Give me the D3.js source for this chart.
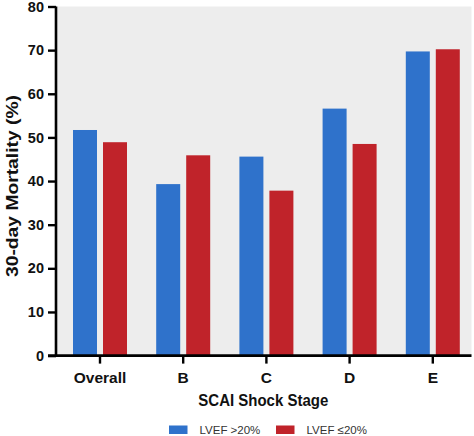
<!DOCTYPE html>
<html><head><meta charset="utf-8">
<script src="https://cdn.jsdelivr.net/npm/d3@7"></script>
<style>body{margin:0;background:#fff;} text{font-family:"Liberation Sans",Arial,sans-serif;}</style>
</head><body>
<svg id="c" width="474" height="436"></svg>
<script>
const categories = ["Overall","B","C","D","E"];
const seriesNames = ["LVEF >20%","LVEF \u226420%"];
const lvefAbove20 = [51.7, 39.3, 45.6, 56.6, 69.7];
const lvefBelow20 = [48.9, 45.9, 37.8, 48.5, 70.2];
const yTicks = [0,10,20,30,40,50,60,70,80];
const colors = ["#2f72cb","#c0232a"];

const svg = d3.select("#c");
const mLeft = 56, mRight = 471.5, mTop = 6.5, mBottom = 355.6;
const y = d3.scaleLinear().domain([0,80]).range([mBottom, mTop]);
const x = d3.scaleBand().domain(categories).range([58.4, 474.4]).paddingInner(0).paddingOuter(0);
const inner = d3.scaleBand().domain([0,1]).range([-27, 27]).paddingInner(0.2);

svg.append("rect").attr("x", mLeft).attr("y", mTop).attr("width", mRight-mLeft).attr("height", mBottom-mTop).attr("fill","#ededed");

const data = categories.map((c,i)=>({c, v:[lvefAbove20[i], lvefBelow20[i]]}));
const g = svg.append("g");
data.forEach(d=>{
  const cx = x(d.c) + x.bandwidth()/2;
  d.v.forEach((v,j)=>{
    g.append("rect").attr("x", cx + inner(j)).attr("width", inner.bandwidth())
     .attr("y", y(v)).attr("height", y(0)-y(v)).attr("fill", colors[j]);
  });
});

// axes
const ya = svg.append("g").attr("transform",`translate(${mLeft},0)`)
  .call(d3.axisLeft(y).tickValues(yTicks).tickSize(8).tickPadding(4));
ya.select(".domain").attr("stroke","#000").attr("stroke-width",2.6).attr("d",`M0,${mBottom}V${mTop}`);
ya.selectAll(".tick line").attr("stroke","#000").attr("stroke-width",2.4);
ya.selectAll(".tick text").attr("font-size",14.5).attr("font-weight","bold").attr("fill","#111");

const xa = svg.append("g").attr("transform",`translate(0,${mBottom})`)
  .call(d3.axisBottom(x).tickSize(8).tickPadding(8));
xa.select(".domain").attr("stroke","#000").attr("stroke-width",2.6).attr("d",`M${mLeft-8},0H${mRight}`);
xa.selectAll(".tick line").attr("stroke","#000").attr("stroke-width",2.4);
xa.selectAll(".tick text").attr("font-size",15.5).attr("font-weight","bold").attr("fill","#111");

svg.append("text").attr("x",263.3).attr("y",405.7).attr("text-anchor","middle")
  .attr("font-size",17).attr("font-weight","bold").attr("fill","#111")
  .attr("textLength",130).attr("lengthAdjust","spacingAndGlyphs").text("SCAI Shock Stage");
svg.append("text").attr("transform",`translate(17.5,186) rotate(-90)`).attr("text-anchor","middle")
  .attr("font-size",16.5).attr("font-weight","bold").attr("fill","#111")
  .attr("textLength",182).attr("lengthAdjust","spacingAndGlyphs").text("30-day Mortality (%)");

// legend
const legX = [169, 276];
seriesNames.forEach((n,j)=>{
  svg.append("rect").attr("x",legX[j]).attr("y",425.5).attr("width",18.5).attr("height",8.5).attr("fill",colors[j]);
  svg.append("text").attr("x",legX[j]+30.5).attr("y",433.5).attr("font-size",11.5).attr("fill","#333").text(n);
});
</script>
</body></html>
